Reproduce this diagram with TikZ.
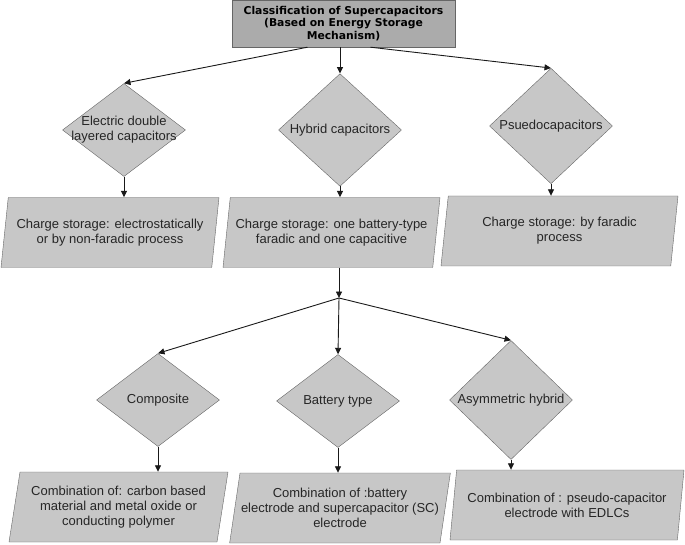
\documentclass[tikz,border=0pt]{standalone}
\usepackage{fontspec}
\setmainfont{Liberation Sans}
\newfontfamily\headfont{DejaVu Sans}
\usetikzlibrary{shapes.geometric,arrows.meta,positioning,calc}

\begin{document}
\begin{tikzpicture}[
  x=1pt, y=-1pt,
  font=\fontsize{13}{15}\selectfont,
  head/.style={draw=black!60, fill=black!33, minimum width=223pt, minimum height=47pt,
    align=center, inner sep=2pt, font=\headfont\bfseries\fontsize{10.8}{12.5}\selectfont},
  dia/.style={diamond, draw=black!60, fill=black!22, minimum width=123pt, minimum height=93pt,
    inner sep=0pt, align=center, text=black!85},
  para/.style={trapezium, trapezium left angle=76, trapezium right angle=104,
    trapezium stretches body, draw=black!60, fill=black!22, minimum height=70pt,
    align=center, inner sep=1pt, text=black!85},
  arr/.style={-{Triangle[length=6.5pt, width=6pt]}, line width=0.9pt, black!90}
]
\useasboundingbox (0,0) rectangle (685,545);
\node[head] (title) at (343.5,23.5) {Classification of Supercapacitors\\ (Based on Energy Storage\\ Mechanism)};
\node[dia, label={[align=center, text=black!85]center:Electric double\\ layered capacitors}] (edlc) at (124,130) {};
\node[dia] (hybrid) at (340,130) {Hybrid capacitors};
\node[dia] (pseudo) at (551,126) {Psuedocapacitors};
\node[para, minimum width=218pt] (edlcstore) at (110,232.5) {Charge storage: electrostatically\\ or by non-faradic process};
\node[para, minimum width=217pt] (hybstore) at (331.5,232.5) {Charge storage: one battery-type\\ faradic and one capacitive};
\node[para, minimum width=237pt] (pseustore) at (559.5,231) {Charge storage: by faradic\\ process};
\coordinate (split) at (339,298);
\node[dia] (comp) at (158,400) {Composite};
\node[dia] (batt) at (338,401) {Battery type};
\node[dia] (asym) at (511,400) {Asymmetric hybrid};
\node[para, minimum width=219pt] (compmix) at (118.5,507) {Combination of: carbon based\\ material and metal oxide or\\ conducting polymer};
\node[para, minimum width=216pt] (battmix) at (340,508) {Combination of :battery\\ electrode and supercapacitor (SC)\\ electrode};
\node[para, minimum width=234pt] (asymmix) at (567,505) {Combination of : pseudo-capacitor\\ electrode with EDLCs};
\draw[arr] ([xshift=-36pt]title.south) -- (edlc.north);
\draw[arr] (hybrid.north |- title.south) -- (hybrid.north);
\draw[arr] ([xshift=27pt]title.south) -- (pseudo.north);
\draw[arr] (edlc.south) -- (edlc.south |- edlcstore.north);
\draw[arr] (hybrid.south) -- (hybrid.south |- hybstore.north);
\draw[arr] (pseudo.south) -- (pseudo.south |- pseustore.north);
\draw[arr] (split |- hybstore.south) -- (split);
\draw[arr] (split) -- (comp.north);
\draw[arr] (split) -- (batt.north);
\draw[arr] (split) -- (asym.north);
\draw[arr] (comp.south) -- (comp.south |- compmix.north);
\draw[arr] (batt.south) -- (batt.south |- battmix.north);
\draw[arr] (asym.south) -- (asym.south |- asymmix.north);
\end{tikzpicture}
\end{document}
